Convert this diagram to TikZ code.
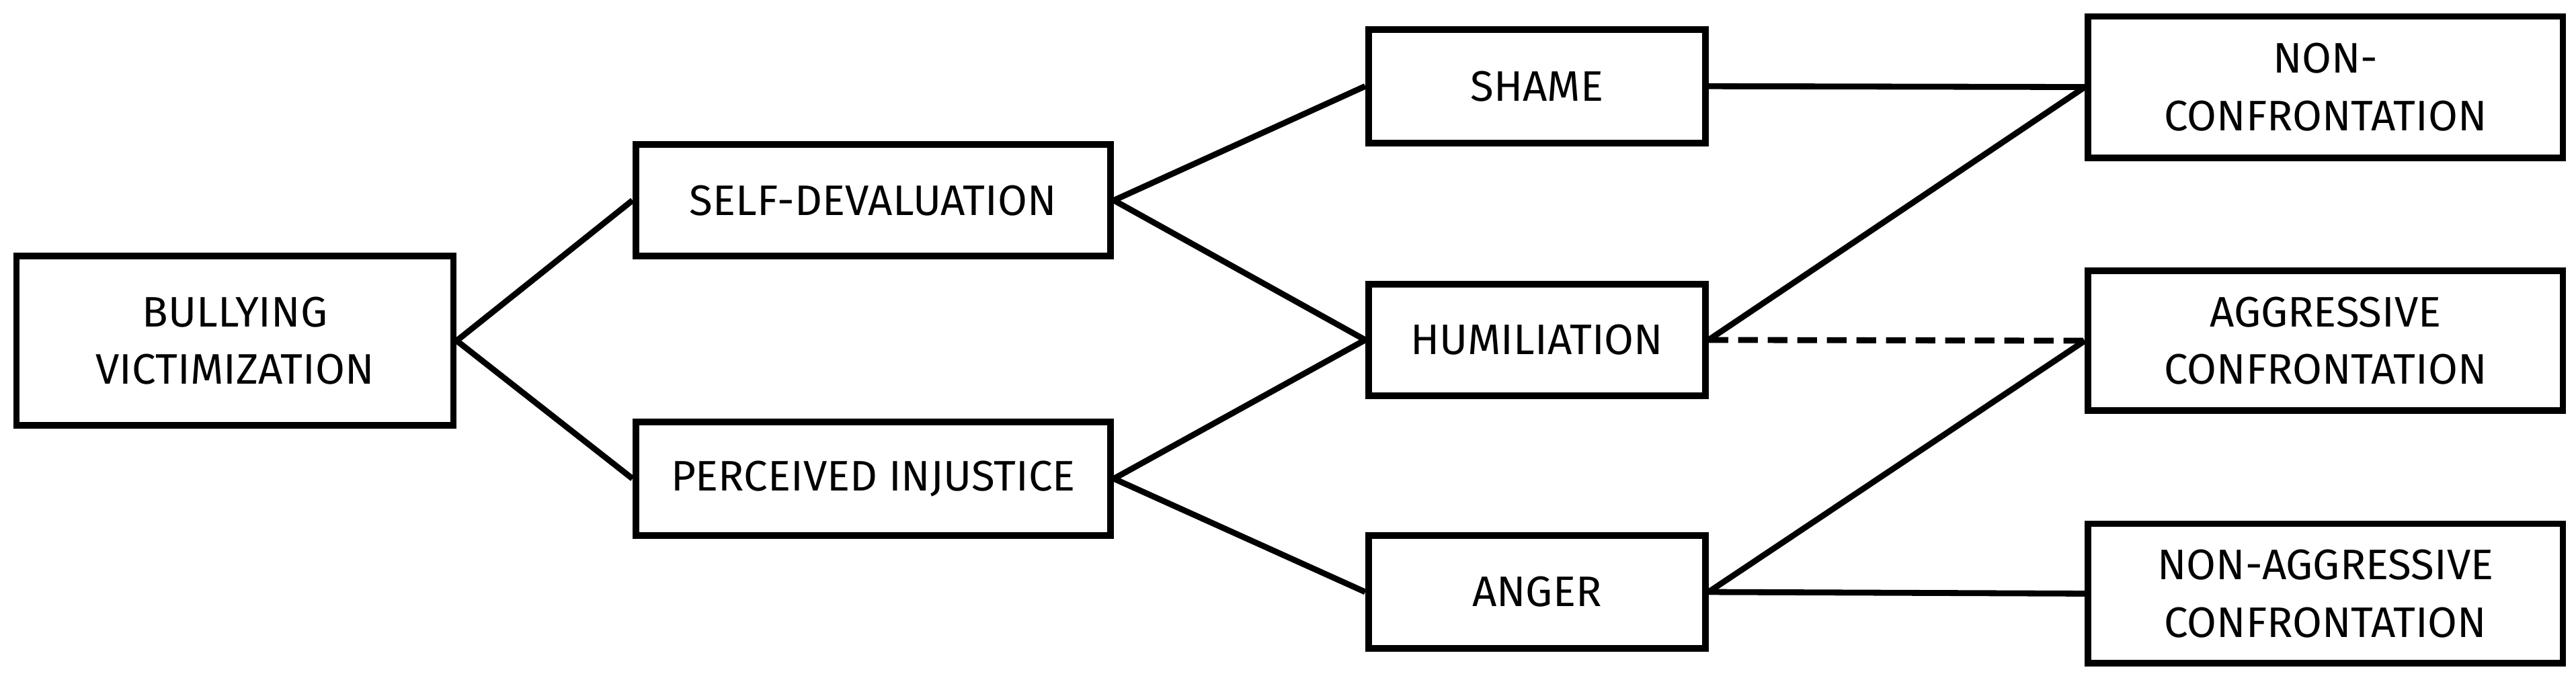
\documentclass[tikz,border=0pt]{standalone}
\usepackage{fontspec}
\setmainfont{Fira Sans}
\begin{document}
\begin{tikzpicture}[x=1pt,y=-1pt,
 bx/.style={draw,line width=4pt,minimum width=#1,align=center,font=\fontsize{26}{35}\selectfont,inner sep=0pt},
 ln/.style={line width=3.6pt}]
\useasboundingbox (0,0) rectangle (1568,415);
\node[bx=266pt,minimum height=103pt] (bv) at (143,207.5) {BULLYING\\VICTIMIZATION};
\node[bx=289pt,minimum height=68pt] (sd) at (531.5,122) {SELF-DEVALUATION};
\node[bx=289pt,minimum height=69pt] (pi) at (531.5,291.5) {PERCEIVED INJUSTICE};
\node[bx=205pt,minimum height=69pt] (sh) at (935.5,52.5) {SHAME};
\node[bx=205pt,minimum height=68pt] (hu) at (935.5,207) {HUMILIATION};
\node[bx=205pt,minimum height=69pt] (an) at (935.5,360.5) {ANGER};
\node[bx=289pt,minimum height=86pt] (nc) at (1415.5,53) {NON-\\CONFRONTATION};
\node[bx=289pt,minimum height=85pt] (ac) at (1415.5,207.5) {AGGRESSIVE\\CONFRONTATION};
\node[bx=289pt,minimum height=85pt] (na) at (1415.5,361.5) {NON-AGGRESSIVE\\CONFRONTATION};
\draw[ln] (bv.east) -- (sd.west);
\draw[ln] (bv.east) -- (pi.west);
\draw[ln] (sd.east) -- (sh.west);
\draw[ln] (sd.east) -- (hu.west);
\draw[ln] (pi.east) -- (hu.west);
\draw[ln] (pi.east) -- (an.west);
\draw[ln] (sh.east) -- (nc.west);
\draw[ln] (hu.east) -- (nc.west);
\draw[ln,dash pattern=on 12pt off 6pt] (hu.east) -- (ac.west);
\draw[ln] (an.east) -- (ac.west);
\draw[ln] (an.east) -- (na.west);
\end{tikzpicture}
\end{document}
